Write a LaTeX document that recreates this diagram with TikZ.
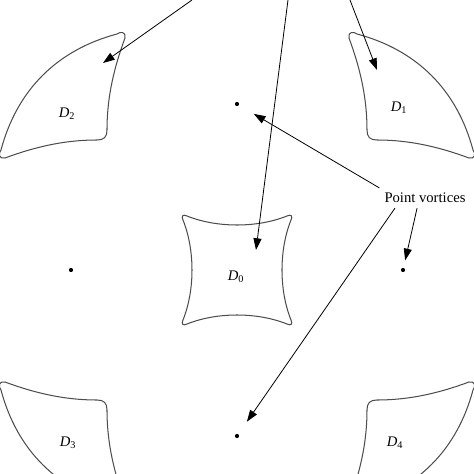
\documentclass[tikz,border=0pt]{standalone}
\usepackage{fontspec}
\setmainfont{Liberation Serif}
\usetikzlibrary{arrows.meta}

\begin{document}
\begin{tikzpicture}[x=0.024cm, y=0.024cm,
    patch/.style={draw=black!70, line width=0.7pt},
    vortex/.style={circle, fill, inner sep=0pt, minimum size=0.1cm},
    arr/.style={-{Triangle[length=8pt,width=5.5pt]}, line width=0.55pt}]
  \clip (-237,-204) rectangle (237,270);

  % outer patches, one shape mirrored
  \foreach \sx/\sy in {1/1, -1/1, 1/-1, -1/-1}
    \draw[patch, xscale=\sx, yscale=\sy]
      (-112,232) .. controls (-122,205) and (-130,175) .. (-130,140)
      .. controls (-130,133) and (-133,130) .. (-140,130)
      .. controls (-175,130) and (-205,122) .. (-232,112)
      .. controls (-238,111) and (-239,116) .. (-236,120)
      .. controls (-220,180) and (-180,220) .. (-120,236)
      .. controls (-116,239) and (-111,238) .. (-112,232) -- cycle;

  % central patch
  \draw[patch] (-50,54) .. controls (-20,42) and (20,42) .. (50,54)
    .. controls (54,56) and (56,54) .. (54,50)
    .. controls (42,20) and (42,-20) .. (54,-50)
    .. controls (56,-54) and (54,-56) .. (50,-54)
    .. controls (20,-42) and (-20,-42) .. (-50,-54)
    .. controls (-54,-56) and (-56,-54) .. (-54,-50)
    .. controls (-42,-20) and (-42,20) .. (-54,50)
    .. controls (-56,54) and (-54,56) .. (-50,54) -- cycle;

  \node[vortex] (vt) at (0,166) {};
  \node[vortex] (vl) at (-166,0) {};
  \node[vortex] (vr) at (166,0) {};
  \node[vortex] (vb) at (0,-166) {};

  \node (d0) at (-1,-7) {\textit{D}\textsubscript{0}};
  \node (d1) at (162,162) {\textit{D}\textsubscript{1}};
  \node (d2) at (-170,156) {\textit{D}\textsubscript{2}};
  \node (d3) at (-169,-173) {\textit{D}\textsubscript{3}};
  \node (d4) at (158,-173) {\textit{D}\textsubscript{4}};
  \node (pv) at (188,72) {Point vortices};

  \coordinate (top1) at (-45,270);
  \coordinate (top2) at (51,270);
  \coordinate (top3) at (113,270);
  \coordinate (tip1) at (-134,207);
  \coordinate (tip2) at (19,20);
  \coordinate (tip3) at (140,200);

  \path[arr]
    (top1) edge (tip1)
    (top2) edge (tip2)
    (top3) edge (tip3)
    (pv.north west) edge[shorten >=0.41cm] (vt)
    ([xshift=-0.19cm]pv.south) edge[shorten >=0.18cm] (vr)
    ([xshift=-0.72cm]pv.south) edge[shorten >=0.36cm] (vb);
\end{tikzpicture}
\end{document}
